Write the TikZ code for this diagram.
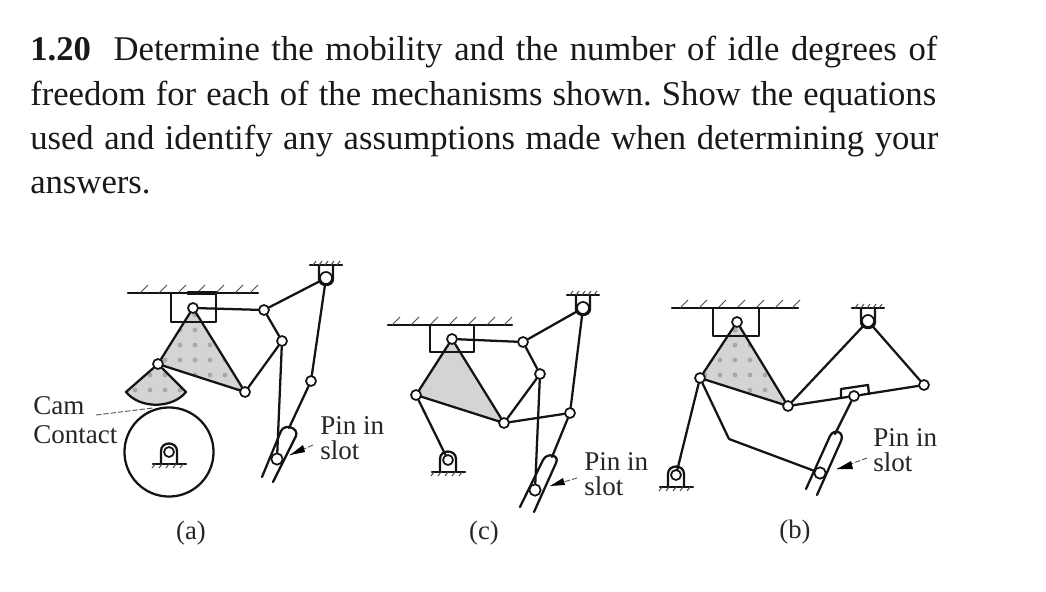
\documentclass[tikz,border=0pt]{standalone}
\usepackage{fontspec}
\setmainfont{Liberation Serif}
\usetikzlibrary{backgrounds}
\frenchspacing
\newcommand{\hatchedground}[4]{% x1 x2 y spacing : hatching above a horizontal line
  \draw[link] (#1,#3) -- (#2,#3);
  \foreach \hx in {#4}{\draw[hatchline] (\hx,#3) -- ++(8,-8);}
}
\newcommand{\textline}[3]{\node[bodytext] at (30,#1) {\makebox[#2pt][s]{#3}};}
% halftone spots over a plate; the current clip limits them
\newcommand{\halftone}[4]{%
  \foreach \hx in {#1,...,#2}{\foreach \hy in {#3,...,#4}{%
    \fill[black!34] (\hx*15,\hy*15) circle[radius=2.4];}}}
\tikzset{
  x=0.75pt,y=-0.75pt,
  link/.style={line width=1.7pt,black!92,line cap=round,line join=round},
  hatchline/.style={line width=0.75pt,black!70},
  joint/.style={circle,draw=black!92,fill=white,line width=1.3pt,inner sep=0pt,minimum size=7.5pt},
  plate/.style={fill=black!17},
  bodytext/.style={anchor=base west,inner sep=0pt,text=black!90,font=\fontsize{26pt}{30pt}\selectfont},
  lbl/.style={anchor=base west,inner sep=0pt,text=black!85,font=\fontsize{20.3pt}{24pt}\selectfont},
  pinlbl/.style={anchor=base west,inner sep=0pt,align=left,text=black!85,font=\fontsize{20.3pt}{18.4pt}\selectfont},
  figcap/.style={anchor=base,inner sep=0pt,text=black!85,font=\fontsize{20pt}{24pt}\selectfont},
  leader/.style={line width=0.7pt,black!65,dash pattern=on 4pt off 1.5pt},
  arrowfill/.style={fill=black,draw=none},
}
% standing pivot, drawn round a pin centre, ground below
\newcommand{\standpivot}[1]{%
  \draw[link] ([shift={(-8,12)}]#1.center) -- ([shift={(-8,-1)}]#1.center)
     .. controls ([shift={(-8,-11)}]#1.center) and ([shift={(8,-11)}]#1.center) .. ([shift={(8,-1)}]#1.center)
     -- ([shift={(8,12)}]#1.center);
  \draw[link] ([shift={(-16,12)}]#1.center) -- ([shift={(17,12)}]#1.center);
  \foreach \hx in {-14,-7,0,7,14}{\draw[hatchline] ([shift={(\hx,12)}]#1.center) -- ++(-3,4);}
}
% hanging pivot, drawn round a pin centre, ground above
\newcommand{\hangpivot}[1]{%
  \draw[link] ([shift={(-7,-13)}]#1.center) -- ([shift={(-7,1)}]#1.center)
     .. controls ([shift={(-7,9)}]#1.center) and ([shift={(7,9)}]#1.center) .. ([shift={(7,1)}]#1.center)
     -- ([shift={(7,-13)}]#1.center);
  \draw[link] ([shift={(-16,-13)}]#1.center) -- ([shift={(16,-13)}]#1.center);
  \foreach \hx in {-13,-7,-1,5,11}{\draw[hatchline] ([shift={(\hx,-13)}]#1.center) -- ++(3,-4);}
}
\begin{document}
\begin{tikzpicture}
\useasboundingbox (0,0) rectangle (1046,592);
\begin{pgfonlayer}{background}
\fill[white] (0,0) rectangle (1046,592);
\end{pgfonlayer}
% ---------- problem text
\textline{61}{680.25}{\textbf{1.20}\hspace*{17pt}Determine the mobility and the number of idle degrees of}
\textline{105}{679.5}{freedom for each of the mechanisms shown. Show the equations}
\textline{149}{681}{used and identify any assumptions made when determining your}
\node[bodytext] at (30,193) {answers.};

% ---------- mechanism (a)
\hatchedground{128}{258}{293}{140,159,178,197,216,235,250}
\draw[link] (171,293) rectangle (216,322);
\draw[link,line width=2.4pt] (188,293) -- (216,293);
\node[joint] (aA) at (193,308) {};
\node[joint] (aB) at (264,310) {};
\node[joint] (aC) at (282,341) {};
\node[joint] (aD) at (245,392) {};
\node[joint] (aE) at (158,364) {};
\node[joint,minimum size=9pt] (aT) at (326,278) {};
\node[joint] (aF) at (311,381) {};
\node[joint,minimum size=8.5pt] (aP) at (277,459) {};
\coordinate (aS) at (289,428);
\coordinate (aL1) at (262,477);
\coordinate (aL2) at (281,431);
\coordinate (aR1) at (296,436);
\coordinate (aR2) at (273,482);
\coordinate (aCamL) at (126,392);
\coordinate (aCamR) at (186,392);
\begin{pgfonlayer}{background}
 \fill[plate] (aA.center) -- (aD.center) -- (aE.center) -- cycle;
 \fill[plate] (aE.center) -- (aCamL) .. controls (140,409) and (172,409) .. (aCamR) -- cycle;
 \begin{scope}
  \clip (aA.center) -- (aD.center) -- (aE.center) -- cycle;
  \halftone{10}{16}{21}{26}
 \end{scope}
 \begin{scope}
  \clip (aE.center) -- (aCamL) .. controls (140,409) and (172,409) .. (aCamR) -- cycle;
  \halftone{8}{12}{25}{27}
 \end{scope}
\end{pgfonlayer}
\draw[link] (aA) -- (aB);
\draw[link] (aA) -- (aD);
\draw[link] (aA) -- (aE);
\draw[link] (aE) -- (aD);
\draw[link] (aD) -- (aC);
\draw[link] (aB) -- (aC);
\draw[link] (aB) -- (aT);
\draw[link] (aT) -- (aF);
\draw[link] (aF) -- (aS);
\draw[link] (aC) -- (aP);
\draw[link] (aE) -- (aCamL) .. controls (140,409) and (172,409) .. (aCamR) -- (aE);
\draw[link] (aL1) -- (aL2) .. controls (285,423) and (299,428) .. (aR1) -- (aR2);
\hangpivot{aT}
\node[circle,draw=black!92,line width=1.7pt,minimum size=66.8pt,inner sep=0pt] (aW) at (169,452) {};
\node[joint] (aG) at (169,452) {};
\standpivot{aG}
\node[lbl] (aCam) at (33,414) {Cam};
\node[lbl] at (33,443) {Contact};
\coordinate (aCt) at (153,408);
\coordinate (aCs) at (96,415);
\draw[leader] (aCs) -- (aCt);
\node[pinlbl] at (320,459) {Pin in\\slot};
\coordinate (aAs) at (313,445);
\coordinate (aAe) at (290,455);
\draw[leader] (aAs) -- (aAe);
\fill[arrowfill] (aAe) -- (303,445) -- (305,452) -- cycle;
\node[figcap] at (191,539) {(a)};

% ---------- mechanism (c)
\hatchedground{388}{512}{325}{392,411,430,449,468,487,504}
\draw[link] (430,325) rectangle (474,352);
\node[joint] (cA) at (452,339) {};
\node[joint] (cB) at (523,342) {};
\node[joint] (cC) at (540,374) {};
\node[joint] (cD) at (504,423) {};
\node[joint] (cE) at (416,395) {};
\node[joint] (cF) at (570,413) {};
\node[joint,minimum size=9pt] (cT) at (583,308) {};
\node[joint] (cG) at (448,460) {};
\node[joint,minimum size=8.5pt] (cP) at (535,490) {};
\coordinate (cS) at (552,457);
\coordinate (cL1) at (520,507);
\coordinate (cL2) at (543,460);
\coordinate (cR1) at (556,463);
\coordinate (cR2) at (534,512);
\begin{pgfonlayer}{background}
 \fill[plate] (cA.center) -- (cD.center) -- (cE.center) -- cycle;
\end{pgfonlayer}
\draw[link] (cA) -- (cB);
\draw[link] (cA) -- (cD);
\draw[link] (cA) -- (cE);
\draw[link] (cE) -- (cD);
\draw[link] (cE) -- (cG);
\draw[link] (cD) -- (cC);
\draw[link] (cD) -- (cF);
\draw[link] (cB) -- (cC);
\draw[link] (cB) -- (cT);
\draw[link] (cT) -- (cF);
\draw[link] (cF) -- (cS);
\draw[link] (cC) -- (cP);
\draw[link] (cL1) -- (cL2) .. controls (547,452) and (560,455) .. (cR1) -- (cR2);
\hangpivot{cT}
\standpivot{cG}
\node[pinlbl] at (584,495) {Pin in\\slot};
\coordinate (cAs) at (577,478);
\coordinate (cAe) at (550,486);
\draw[leader] (cAs) -- (cAe);
\fill[arrowfill] (cAe) -- (563,478) -- (565,485) -- cycle;
\node[figcap] at (484,539) {(c)};

% ---------- mechanism (b)
\hatchedground{672}{798}{308}{680,699,718,737,756,775,792}
\draw[link] (713,308) rectangle (759,336);
\node[joint] (bA) at (737,322) {};
\node[joint] (bE) at (700,378) {};
\node[joint] (bD) at (788,406) {};
\node[joint,minimum size=9pt] (bT) at (868,321) {};
\node[joint] (bR) at (924,385) {};
\node[joint] (bM) at (854,396) {};
\node[joint,minimum size=8.5pt] (bP) at (820,473) {};
\node[joint] (bG) at (676,475) {};
\coordinate (bK) at (729,439);
\coordinate (bS) at (835,434);
\coordinate (bL1) at (806,489);
\coordinate (bL2) at (830,436);
\coordinate (bR1) at (841,441);
\coordinate (bR2) at (817,495);
\begin{pgfonlayer}{background}
 \fill[plate] (bA.center) -- (bD.center) -- (bE.center) -- cycle;
 \begin{scope}
  \clip (bA.center) -- (bD.center) -- (bE.center) -- cycle;
  \halftone{47}{52}{22}{26}
 \end{scope}
\end{pgfonlayer}
\draw[link] (bA) -- (bD);
\draw[link] (bA) -- (bE);
\draw[link] (bE) -- (bD);
\draw[link] (bE) -- (bG);
\draw[link] (bE) -- (bK) -- (bP);
\draw[link] (bD) -- (bT);
\draw[link] (bT) -- (bR);
\draw[link] (bD) -- (bM);
\draw[link] (bM) -- (bR);
\draw[link] (bM) -- (bS);
\draw[link] (841,398) -- (841,389) -- (868,385) -- (869,394);
\draw[link] (bL1) -- (bL2) .. controls (834,428) and (845,432) .. (bR1) -- (bR2);
\hangpivot{bT}
\standpivot{bG}
\node[pinlbl] at (873,471) {Pin in\\slot};
\coordinate (bAs) at (867,458);
\coordinate (bAe) at (837,469);
\draw[leader] (bAs) -- (bAe);
\fill[arrowfill] (bAe) -- (851,461) -- (853,469) -- cycle;
\node[figcap] at (795,538) {(b)};
\end{tikzpicture}
\end{document}
